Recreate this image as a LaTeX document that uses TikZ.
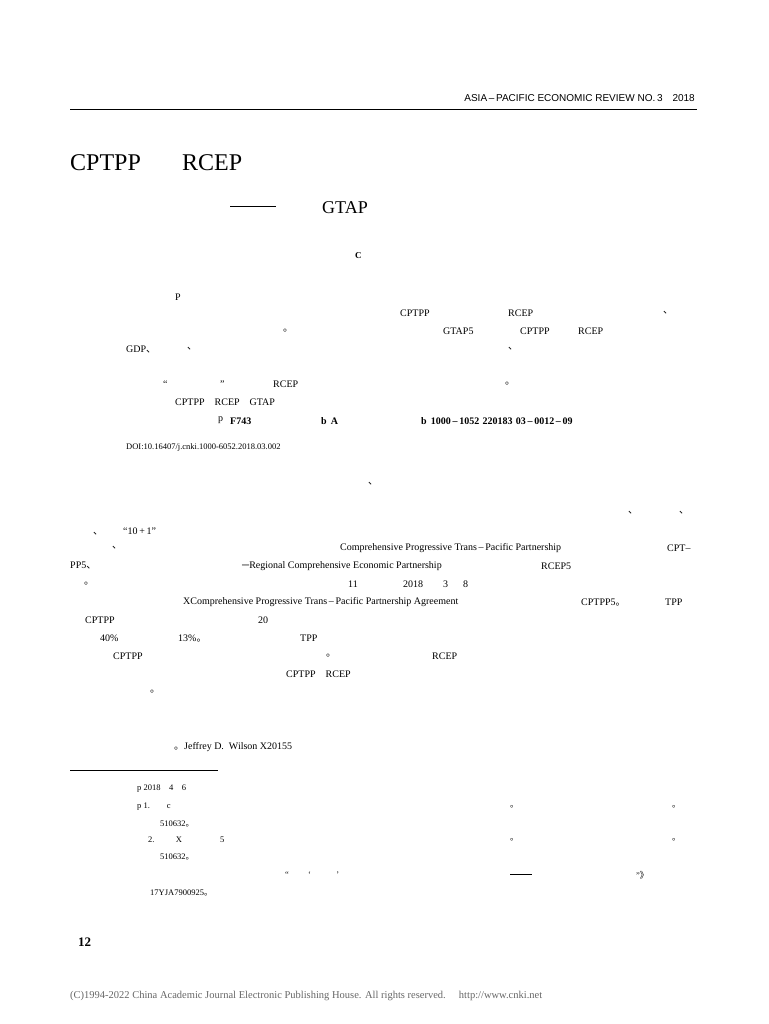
\documentclass[tikz,border=0pt]{standalone}
\usepackage{fontspec}
\setmainfont{Liberation Serif}
\newfontfamily\hdr{Liberation Sans}
\newfontfamily\cjk{Noto Sans CJK SC}
\newcommand\Dn{{\cjk 、}}
\newcommand\Jh{{\cjk 。}}
\newcommand\Mn{{\cjk －}}
\begin{document}
\begin{tikzpicture}[x=1pt,y=-1pt,
  t/.style={anchor=west,inner sep=0pt,font=\fontsize{10}{12}\selectfont},
  s/.style={anchor=west,inner sep=0pt,font=\fontsize{8.5}{10}\selectfont}]
\useasboundingbox (0,0) rectangle (768,1024);
\node[anchor=east,inner sep=0pt,font=\hdr\fontsize{10}{12}\selectfont] (h) at (695,98) {ASIA\,–\,PACIFIC ECONOMIC REVIEW NO.\,3\quad 2018};
\draw[line width=0.6pt] (70,109) -- (697,109);
\node[t,font=\fontsize{24}{28}\selectfont] (t1) at (70,163) {CPTPP};
\node[t,font=\fontsize{24}{28}\selectfont] (t2) at (182,163) {RCEP};
\node[t,font=\fontsize{18}{20}\selectfont] (t3) at (322,208) {GTAP};
\draw[line width=0.8pt] (230,206) -- (276,206);
\node[t,font=\bfseries\fontsize{9}{10}\selectfont] (c) at (355,256) {C};
\node[t] at (175,297) {P};
\node[t] at (400,313) {CPTPP};
\node[t] at (508,313) {RCEP};
\node[t] at (663,313) {\Dn};
\node[t] at (283,331) {\Jh};
\node[t] at (443,331) {GTAP5};
\node[t] at (520,331) {CPTPP};
\node[t] at (578,331) {RCEP};
\node[t] at (126,349) {GDP\Dn};
\node[t] at (187,349) {\Dn};
\node[t] at (508,349) {\Dn};
\node[t] at (163,384) {“};
\node[t] at (220,384) {”};
\node[t] at (273,384) {RCEP};
\node[t] at (505,384) {\Jh};
\node[t] at (175,402) {CPTPP\quad RCEP\quad GTAP};
\node[t] at (218,420) {p};
\node[t,font=\bfseries\fontsize{10}{12}\selectfont] at (230,421) {F743};
\node[t,font=\bfseries\fontsize{10}{12}\selectfont] at (321,421) {b\, A};
\node[t,font=\bfseries\fontsize{10}{12}\selectfont] at (421,421) {b\, 1000\,–\,1052\,\,220183\,\,03\,–\,0012\,–\,09};
\node[s] at (126,447) {DOI:10.16407/j.cnki.1000-6052.2018.03.002};
\node[t] at (368,484) {\Dn};
\node[t] at (628,513) {\Dn};
\node[t] at (679,513) {\Dn};
\node[t] at (93,531) {\Dn\qquad “10\,+\,1”};
\node[t] at (112,548) {\Dn};
\node[t] at (340,548) {Comprehensive Progressive Trans\,–\,Pacific Partnership};
\node[t] at (667,548) {CPT–};
\node[t] at (70,566) {PP5\Dn};
\node[t] at (242,566) {─Regional Comprehensive Economic Partnership};
\node[t] at (541,566) {RCEP5};
\node[t] at (84,584) {\Jh};
\node[t] at (348,584) {11};
\node[t] at (403,584) {2018\qquad 3\quad\ \ 8};
\node[t] at (183,602) {XComprehensive Progressive Trans\,–\,Pacific Partnership Agreement};
\node[t] at (581,602) {CPTPP5\Jh};
\node[t] at (665,602) {TPP};
\node[t] at (85,620) {CPTPP};
\node[t] at (258,620) {20};
\node[t] at (100,638) {40\%};
\node[t] at (178,638) {13\%\Jh};
\node[t] at (300,638) {TPP};
\node[t] at (113,656) {CPTPP};
\node[t] at (326,656) {\Jh};
\node[t] at (432,656) {RCEP};
\node[t] at (286,674) {CPTPP\quad RCEP};
\node[t] at (150,692) {\Jh};
\node[t] at (174,747) {\Jh Jeffrey D.\ \ Wilson X20155};
\draw[line width=0.6pt] (70,770) -- (218,770);
\node[s] at (137,789) {p 2018\quad 4\quad 6};
\node[s] at (137,807) {p 1.\qquad c};
\node[s] at (510,807) {\Jh};
\node[s] at (672,807) {\Jh};
\node[s] at (160,824) {510632\Jh};
\node[s] at (148,840) {2.\qquad\ \ X\qquad\qquad\ \ 5};
\node[s] at (510,840) {\Jh};
\node[s] at (672,840) {\Jh};
\node[s] at (160,857) {510632\Jh};
\node[s] at (285,875) {“\qquad\ ‘\qquad\quad ’};
\draw (510,874) -- (532,874);
\node[s] at (636,875) {”{\cjk 》}};
\node[s] at (150,893) {17YJA7900925\Jh};
\node[t,font=\bfseries\fontsize{13}{14}\selectfont] at (78,942) {12};
\node[t,font=\fontsize{10.5}{12}\selectfont,text=black!60] at (70,996) {(C)1994-2022 China Academic Journal Electronic Publishing House. All rights reserved.\quad\ http://www.cnki.net};
\end{tikzpicture}
\end{document}
